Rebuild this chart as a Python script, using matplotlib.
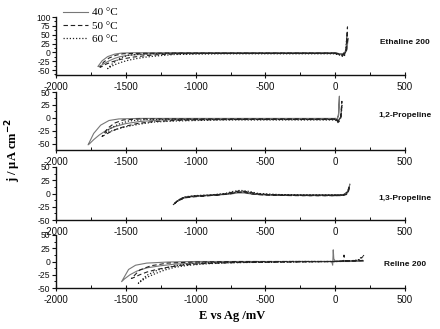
import matplotlib
matplotlib.use("Agg")
import matplotlib.pyplot as plt
from matplotlib.ticker import MultipleLocator, AutoMinorLocator
from matplotlib.lines import Line2D

plt.rcParams['axes.unicode_minus'] = False

# ---------------- data ----------------
panel_names = ["Ethaline 200", "1,2-Propeline", "1,3-Propeline", "Reline 200"]
temps = ["40 °C", "50 °C", "60 °C"]

# Ethaline 200
eth_40_E = [0, -400, -800, -1200, -1450, -1530, -1580, -1630, -1670, -1700, -1690, -1660, -1620, -1580, -1540, -1480, -1400, -1300, -1150, -1000, -700, -300, 0, 40, 70, 85, 92, 80, 50, 20, 0]
eth_40_j = [-1, -1, -1, -1, -1, -2, -5, -12, -24, -40, -40, -33, -24, -17, -12, -8, -6, -4, -3, -2, -2, -2, -2, -4, -3, 8, 40, 5, -6, -3, -1]
eth_50_E = [0, -400, -800, -1200, -1450, -1520, -1570, -1620, -1660, -1685, -1670, -1640, -1600, -1550, -1500, -1440, -1350, -1250, -1100, -950, -700, -300, 0, 40, 65, 80, 88, 85, 75, 50, 20, 0]
eth_50_j = [-2, -2, -2, -2, -3, -4, -8, -16, -28, -42, -40, -33, -27, -21, -17, -13, -9, -6, -4, -3, -3, -3, -3, -6, -8, 5, 72, 30, 2, -8, -4, -2]
eth_60_E = [0, -400, -800, -1200, -1400, -1480, -1540, -1590, -1630, -1615, -1580, -1540, -1490, -1430, -1350, -1250, -1150, -1000, -800, -400, 0, 40, 65, 78, 85, 75, 50, 20, 0]
eth_60_j = [-3, -3, -3, -3, -5, -8, -16, -30, -46, -42, -35, -29, -23, -18, -13, -9, -6, -5, -4, -4, -4, -8, -12, 10, 55, 5, -10, -5, -3]

# 1,2-Propeline
p12_40_E = [0, -500, -1000, -1400, -1550, -1620, -1680, -1730, -1770, -1760, -1730, -1690, -1640, -1580, -1500, -1400, -1250, -1100, -800, -400, 0, 15, 25, 30, 25, 10, 0]
p12_40_j = [-1, -1, -1, -1, -2, -5, -14, -30, -52, -50, -42, -33, -24, -17, -11, -7, -4, -3, -2, -2, -2, -4, 10, 42, 5, -3, -1]
p12_50_E = [0, -500, -1000, -1400, -1520, -1580, -1630, -1670, -1650, -1610, -1560, -1500, -1420, -1300, -1150, -1000, -700, -300, 0, 25, 40, 48, 40, 20, 0]
p12_50_j = [-2, -2, -2, -2, -4, -10, -20, -36, -33, -27, -21, -16, -11, -7, -5, -4, -3, -3, -3, -8, 0, 32, 2, -6, -2]
p12_60_E = [0, -500, -1000, -1350, -1480, -1550, -1610, -1650, -1630, -1590, -1540, -1480, -1400, -1300, -1150, -1000, -800, -400, 0, 25, 40, 50, 40, 20, 0]
p12_60_j = [-3, -3, -3, -3, -6, -12, -20, -30, -28, -24, -20, -16, -12, -8, -6, -5, -4, -4, -4, -10, 5, 25, 0, -5, -3]

# 1,3-Propeline
p13_40_E = [0, -300, -500, -600, -650, -700, -750, -850, -1000, -1080, -1120, -1150, -1140, -1110, -1060, -1000, -900, -780, -720, -670, -620, -550, -400, -200, 0, 50, 80, 95, 105, 95, 60, 0]
p13_40_j = [-3, -3, -3, -1, 1, 1, -1, -3, -4, -7, -12, -18, -16, -11, -7, -5, -4, -1, 2, 3, 2, -1, -3, -3, -3, -3, -1, 6, 18, 4, -2, -3]
p13_50_E = [0, -300, -500, -600, -650, -700, -760, -850, -1000, -1090, -1130, -1165, -1150, -1120, -1070, -1000, -900, -790, -730, -680, -620, -550, -400, -200, 0, 50, 80, 95, 102, 92, 60, 0]
p13_50_j = [-4, -4, -3, -1, 2, 2, -1, -3, -5, -8, -14, -22, -19, -13, -8, -6, -4, -1, 3, 5, 3, -1, -3, -4, -4, -4, -2, 4, 14, 3, -3, -4]
p13_60_E = [0, -300, -500, -600, -650, -700, -760, -850, -1000, -1070, -1110, -1140, -1125, -1095, -1050, -1000, -900, -790, -730, -680, -620, -550, -400, -200, 0, 50, 75, 90, 98, 90, 60, 0]
p13_60_j = [-3, -3, -2, 0, 3, 3, 0, -2, -4, -6, -10, -16, -14, -9, -6, -5, -3, 0, 4, 6, 4, 0, -2, -3, -3, -3, -1, 5, 12, 3, -2, -3]

# Reline 200
rel_40_E = [200, 100, 0, -10, -14, -18, -25, -60, -300, -700, -1000, -1200, -1350, -1430, -1480, -1530, -1510, -1470, -1420, -1350, -1250, -1150, -1000, -700, -300, 0, 100, 200]
rel_40_j = [1, 1, 1, 5, 22, -7, 0, 0, 0, 0, 0, -1, -3, -7, -15, -38, -33, -25, -18, -12, -8, -5, -3, -1, 0, 0, 0, 1]
rel_50_E = [200, 150, 100, 70, 63, 60, 40, 0, -300, -700, -1000, -1200, -1320, -1400, -1460, -1440, -1400, -1350, -1280, -1200, -1100, -950, -700, -300, 0, 100, 200]
rel_50_j = [2, 1, 1, 1, 12, 2, 0, 0, 0, 0, -1, -3, -8, -16, -32, -30, -25, -20, -15, -11, -7, -4, -2, -1, 0, 1, 2]
rel_60_E = [200, 190, 175, 150, 100, 0, -300, -700, -1000, -1150, -1270, -1350, -1410, -1390, -1350, -1290, -1220, -1150, -1050, -900, -700, -300, 0, 100, 170, 195, 205]
rel_60_j = [8, 10, 4, 2, 1, 0, 0, -1, -3, -8, -16, -26, -41, -37, -30, -23, -16, -11, -7, -4, -2, -1, 0, 1, 3, 8, 12]

panels = [
    [(eth_40_E, eth_40_j), (eth_50_E, eth_50_j), (eth_60_E, eth_60_j)],
    [(p12_40_E, p12_40_j), (p12_50_E, p12_50_j), (p12_60_E, p12_60_j)],
    [(p13_40_E, p13_40_j), (p13_50_E, p13_50_j), (p13_60_E, p13_60_j)],
    [(rel_40_E, rel_40_j), (rel_50_E, rel_50_j), (rel_60_E, rel_60_j)],
]
ylims = [(-64, 100), (-62, 50), (-50, 50), (-50, 50)]
y_ticks = [[-50, -25, 0, 25, 50, 75, 100], [-50, -25, 0, 25, 50],
           [-50, -25, 0, 25, 50], [-50, -25, 0, 25, 50]]
x_ticks = [-2000, -1500, -1000, -500, 0, 500]

# ---------------- layout ----------------
W, H = 440, 329
fig = plt.figure(figsize=(W / 100, H / 100), dpi=100)
rects_px = [(17, 75), (92, 150), (167, 220), (235, 288)]
left_px, right_px = 56, 405
styles = [dict(ls='-', color='#777777', lw=0.8),
          dict(ls=(0, (4, 2.5)), color='#222222', lw=0.8),
          dict(ls=(0, (1, 1.5)), color='#222222', lw=0.9)]

sans = 'Liberation Sans'
serif = 'Liberation Serif'

for i, (top, bot) in enumerate(rects_px):
    ax = fig.add_axes([left_px / W, 1 - bot / H, (right_px - left_px) / W, (bot - top) / H])
    for (E, j), st in zip(panels[i], styles):
        ax.plot(E, j, **st)
    ax.set_xlim(-2000, 500)
    ax.set_ylim(*ylims[i])
    ax.set_xticks(x_ticks)
    ax.set_yticks(y_ticks[i])
    ax.xaxis.set_minor_locator(MultipleLocator(250))
    ax.yaxis.set_minor_locator(AutoMinorLocator(2))
    ax.spines['top'].set_visible(False)
    ax.spines['right'].set_visible(False)
    for s in ('left', 'bottom'):
        ax.spines[s].set_linewidth(1.0)
        ax.spines[s].set_color('#111111')
    ax.tick_params(axis='x', which='major', direction='inout', length=4, width=0.8,
                   labelsize=7, pad=3, colors='#111111')
    ax.tick_params(axis='x', which='minor', direction='in', length=2, width=0.7, colors='#111111')
    ax.tick_params(axis='y', which='major', direction='out', length=3, width=0.8,
                   labelsize=6.2, pad=1, colors='#111111')
    ax.tick_params(axis='y', which='minor', direction='out', length=1.5, width=0.7, colors='#111111')
    for lab in ax.get_xticklabels() + ax.get_yticklabels():
        lab.set_family(sans)
    ax.patch.set_alpha(0)
    label_y = {0: 43, 1: 115, 2: 198, 3: 264}[i]
    fig.text(405 / W, 1 - label_y / H, panel_names[i], ha='center', va='center',
             fontsize=6, fontweight='bold', family=sans, color='#111111')

handles = [Line2D([], [], **st) for st in styles]
fig.legend(handles, temps, loc='upper left', bbox_to_anchor=(56 / W, 1 - 1 / H),
           frameon=False, prop={'family': serif, 'size': 8}, handlelength=2.3,
           labelspacing=0.3, handletextpad=0.3, borderpad=0.1)

fig.text(13 / W, 1 - 150 / H, "j / μA cm$^{\\mathbf{-2}}$", rotation=90, ha='center', va='center',
         fontsize=9, fontweight='bold', family=serif)
fig.text(232 / W, 1 - 316 / H, "E vs Ag /mV", ha='center', va='center',
         fontsize=9, fontweight='bold', family=serif)

fig.savefig("out.png", dpi=100)
